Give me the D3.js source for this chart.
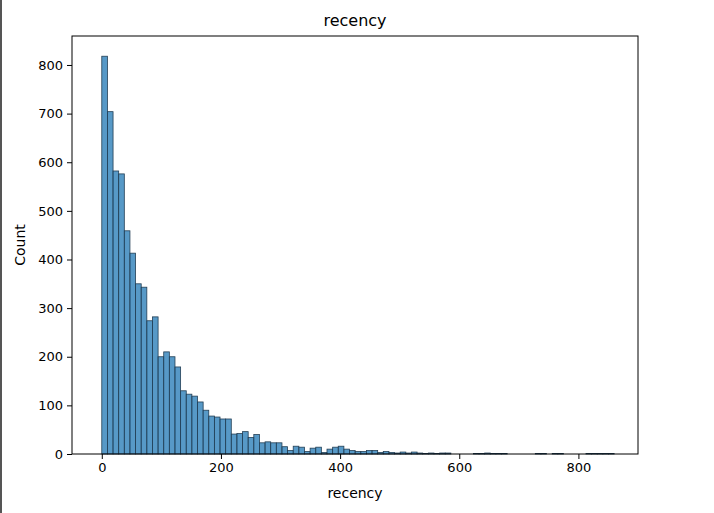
<!DOCTYPE html>
<html><head><meta charset="utf-8">
<script src="https://cdn.jsdelivr.net/npm/d3@7"></script>
<style>body{margin:0;background:#fff}svg{display:block}</style></head>
<body><script>
const title = "recency";
const xLabel = "recency";
const yLabel = "Count";
const binStart = 0;
const binWidth = 9.45;
const counts = [818,704,582,576,459,413,350,343,274,282,200,210,200,179,130,123,119,107,90,78,76,72,72,
41,42,46,34,40,23,25,23,23,15,7,16,14,5,12,14,3,10,14,16,10,7,5,5,7,7,3,5,3,2,4,2,4,2,1,2,
1,2,2,0,0,0,0,1,1,2,1,1,1,0,0,0,0,0,1,1,0,1,1,0,0,0,0,1,1,1,1,1];
const xTicks = [0,200,400,600,800];
const yTicks = [0,100,200,300,400,500,600,700,800];

const W=714,H=513,L=72,R=638,T=36,B=454;
const svg=d3.select("body").append("svg").attr("width",W).attr("height",H)
  .style("font-family","DejaVu Sans, sans-serif");
svg.append("line").attr("x1",1).attr("x2",1).attr("y1",0).attr("y2",H).attr("stroke","#555").attr("stroke-width",2);
const x=d3.scaleLinear().domain([-50,900]).range([L,R]);
const y=d3.scaleLinear().domain([0,859.6]).range([B,T]);
svg.append("g").selectAll("rect").data(counts).join("rect")
  .attr("x",(d,i)=>x(binStart+i*binWidth))
  .attr("width",(d,i)=>x(binStart+(i+1)*binWidth)-x(binStart+i*binWidth))
  .attr("y",d=>y(d)).attr("height",d=>B-y(d))
  .attr("fill","rgba(31,119,180,0.75)").attr("stroke","#233f55").attr("stroke-width",0.8);
const xa=svg.append("g").attr("transform",`translate(0,${B})`).call(d3.axisBottom(x).tickValues(xTicks).tickSize(5).tickPadding(4));
const ya=svg.append("g").attr("transform",`translate(${L},0)`).call(d3.axisLeft(y).tickValues(yTicks).tickSize(5).tickPadding(4));
[xa,ya].forEach(a=>{a.select(".domain").remove();a.selectAll("text").attr("font-size",13).attr("fill","#000").style("font-family","DejaVu Sans");a.selectAll("line").attr("stroke","#000");});
svg.append("rect").attr("x",L).attr("y",T).attr("width",R-L).attr("height",B-T).attr("fill","none").attr("stroke","#000").attr("stroke-width",1);
svg.append("text").attr("x",(L+R)/2).attr("y",T-10).attr("text-anchor","middle").attr("font-size",16).text(title);
svg.append("text").attr("x",(L+R)/2).attr("y",498).attr("text-anchor","middle").attr("font-size",14).text(xLabel);
svg.append("text").attr("transform",`translate(25,${(T+B)/2}) rotate(-90)`).attr("text-anchor","middle").attr("font-size",14).text(yLabel);
</script></body></html>
